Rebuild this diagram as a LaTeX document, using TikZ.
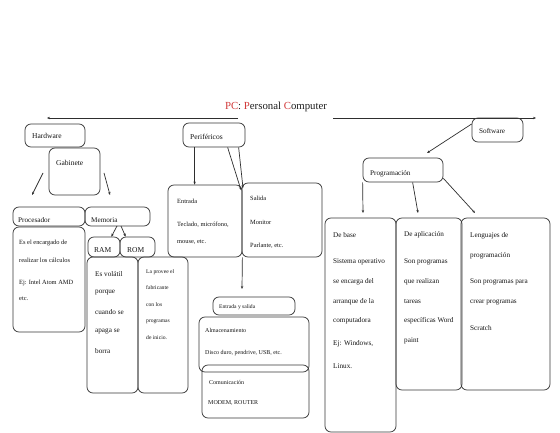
\documentclass[tikz,border=0pt]{standalone}
\usepackage{fontspec}
\setmainfont{Liberation Serif}
\usetikzlibrary{arrows.meta,fit}
\definecolor{ttl}{HTML}{D23A3A}
\newcounter{tlc}
\newcommand\tl[4][]{\stepcounter{tlc}\node[txt,#1] (tl\arabic{tlc}) at (#2,#3) {#4};}
\tikzset{
  box/.style={draw=black!78, line width=0.75pt, rounded corners=6pt, inner sep=0pt},
  txt/.style={anchor=west, inner sep=0pt, text=black!92, font=\fontsize{6.5}{7}\selectfont},
  fA/.style={font=\fontsize{7.5}{8}\selectfont},
  fB/.style={font=\fontsize{7.2}{8}\selectfont},
  fC/.style={font=\fontsize{6.4}{7}\selectfont},
  fD/.style={font=\fontsize{6}{7}\selectfont},
  fE/.style={font=\fontsize{5.6}{6}\selectfont},
  arr/.style={draw=black!82, line width=0.7pt, -{Stealth[length=3pt,width=2.4pt]}},
}
\begin{document}
\begin{tikzpicture}[x=1pt,y=-1pt]
\useasboundingbox (0,0) rectangle (560,433);
\fill[white] (0,0) rectangle (560,433);

% title
\node[inner sep=0pt, font=\fontsize{10.8}{12}\selectfont, text=black!88] (title) at (276,107)
  {\textcolor{ttl}{PC}: \textcolor{ttl}{P}ersonal \textcolor{ttl}{C}omputer};
\coordinate (la) at (238,118); \coordinate (lb) at (47,118);
\coordinate (ra) at (333,118); \coordinate (rb) at (536,118);
\draw[arr] (la) -- (lb);
\draw[arr] (ra) -- (rb);

% hardware side
\node[box, fit={(25,124) (85,147)}] (hw) {};
\node[box, fit={(49,148) (100,195)}] (gab) {};
\tl[fA]{32}{136}{Hardware}
\tl[fA]{56}{163}{Gabinete}
\coordinate (g1) at (43,173); \coordinate (g1e) at (32,195);
\coordinate (g2) at (104,173); \coordinate (g2e) at (110,195);
\draw[arr] (g1) -- (g1e);
\draw[arr] (g2) -- (g2e);

\node[box, fit={(13,207) (85,226)}] (proc) {};
\node[box, fit={(85,207) (150,226)}] (mem) {};
\node[box, fit={(13,227) (85,332)}] (procd) {};
\tl[fB]{18}{220}{Procesador}
\tl[fB]{91}{220}{Memoria}
\tl[fC]{19}{243}{Es el encargado de}
\tl[fC]{19}{260}{realizar los cálculos}
\tl[fC]{19}{283}{Ej: Intel Atom AMD}
\tl[fC]{19}{299}{etc.}

\node[box, fit={(88,237) (120,257)}] (ram) {};
\node[box, fit={(120,237) (155,257)}] (rom) {};
\tl[fA]{94}{250}{RAM}
\tl[fA]{127}{250}{ROM}
\coordinate (m1) at (117,226); \coordinate (m2) at (121,226);
\draw[arr] (m1) -- ([xshift=-9pt]ram.north east);
\draw[arr] (m2) -- ([xshift=6pt]rom.north west);

\node[box, fit={(87,257) (138,393)}] (ramd) {};
\node[box, fit={(138,257) (188,393)}] (romd) {};
\tl[fB]{95}{274}{Es volátil}
\tl[fB]{95}{293}{porque}
\tl[fB]{95}{312}{cuando se}
\tl[fB]{95}{331}{apaga se}
\tl[fB]{95}{351}{borra}
\tl[fE]{146}{272}{La provee el}
\tl[fE]{146}{288}{fabricante}
\tl[fE]{146}{305}{con los}
\tl[fE]{146}{322}{programas}
\tl[fE]{146}{338}{de inicio.}

% perifericos
\node[box, fit={(183,123) (245,147)}] (per) {};
\tl[fA]{190}{137}{Periféricos}
\node[box, fit={(168,185) (242,257)}] (ent) {};
\node[box, fit={(242,183) (322,257)}] (sal) {};
\tl[fC]{177}{201}{Entrada}
\tl[fC]{177}{225}{Teclado, micrófono,}
\tl[fC]{177}{242}{mouse, etc.}
\tl[fC]{250}{198}{Salida}
\tl[fC]{250}{222}{Monitor}
\tl[fC]{250}{246}{Parlante, etc.}
\coordinate (j1) at (241,190); \coordinate (j2) at (243,188);
\draw[arr] ([xshift=12pt]per.south west) -- ([xshift=12pt]per.south west |- ent.north);
\draw[arr] ([xshift=45pt]per.south west) -- (j1);
\draw[arr] ([xshift=56pt]per.south west) -- (j2);
\coordinate (jd) at (242,289);
\draw[arr] (ent.south east) -- (jd);

\node[box, fit={(213,297) (295,315)}] (es) {};
\node[box, fit={(199,317) (309,372)}] (alm) {};
\node[box, fit={(202,365) (309,418)}] (com) {};
\tl[fE]{219}{307}{Entrada y salida}
\tl[fD]{205}{330}{Almacenamiento}
\tl[fD]{205}{353}{Disco duro, pendrive, USB, etc.}
\tl[fD]{209}{382}{Comunicación}
\tl[fD]{208}{403}{MODEM, ROUTER}

% software
\node[box, fit={(472,118) (523,142)}] (sw) {};
\tl[fB]{479}{131}{Software}
\node[box, fit={(363,158) (443,182)}] (prog) {};
\tl[fB]{370}{174}{Programación}
\coordinate (pe) at (427,153);
\draw[arr] ([yshift=6pt]sw.west) -- (pe);

\node[box, fit={(325,218) (396,432)}] (base) {};
\node[box, fit={(396,218) (462,390)}] (apl) {};
\node[box, fit={(461,218) (550,390)}] (len) {};
\coordinate (p1) at (363,213); \coordinate (p2) at (418,213); \coordinate (p3) at (475,213);
\draw[arr] (prog.south west) -- (p1);
\draw[arr] ([xshift=50pt]prog.south west) -- (p2);
\draw[arr] ([yshift=4pt]prog.south east) -- (p3);

\tl[fB]{333}{235}{De base}
\tl[fB]{333}{262}{Sistema operativo}
\tl[fB]{333}{282}{se encarga del}
\tl[fB]{333}{302}{arranque de la}
\tl[fB]{333}{321}{computadora}
\tl[fB]{333}{344}{Ej: Windows,}
\tl[fB]{333}{366}{Linux.}

\tl[fB]{404}{235}{De aplicación}
\tl[fB]{404}{262}{Son programas}
\tl[fB]{404}{282}{que realizan}
\tl[fB]{404}{302}{tareas}
\tl[fB]{404}{321}{específicas Word}
\tl[fB]{404}{341}{paint}

\tl[fB]{470}{236}{Lenguajes de}
\tl[fB]{470}{256}{programación}
\tl[fB]{470}{282}{Son programas para}
\tl[fB]{470}{302}{crear programas}
\tl[fB]{470}{328}{Scratch}
\end{tikzpicture}
\end{document}
